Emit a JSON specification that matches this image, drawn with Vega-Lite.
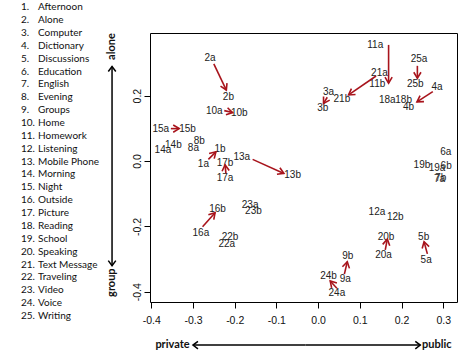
{
  "$schema": "https://vega.github.io/schema/vega-lite/v6.json",
  "width": 307,
  "height": 269,
  "autosize": {"type": "none"},
  "padding": {"left": 150, "top": 33, "right": 17, "bottom": 53},
  "background": "white",
  "config": {
    "view": {"stroke": "#000", "strokeWidth": 1},
    "axis": {"grid": false, "domain": false, "tickColor": "#000", "tickSize": 6, "labelFont": "Liberation Sans", "labelFontSize": 10.5, "labelColor": "#111"},
    "legend": {
      "symbolSize": 0, "symbolOpacity": 0, "symbolStrokeWidth": 0,
      "labelFont": "Lato", "labelFontSize": 10, "labelColor": "#111",
      "rowPadding": 2.86, "labelOffset": 0, "padding": 0, "labelLimit": 300
    }
  },
  "datasets": {
    "labels": [
      {"label": "1a", "x": -0.275, "y": -0.009}, {"label": "1b", "x": -0.235, "y": 0.036},
      {"label": "2a", "x": -0.259, "y": 0.314}, {"label": "2b", "x": -0.215, "y": 0.197},
      {"label": "3a", "x": 0.025, "y": 0.212}, {"label": "3b", "x": 0.011, "y": 0.161},
      {"label": "4a", "x": 0.285, "y": 0.225}, {"label": "4b", "x": 0.217, "y": 0.164},
      {"label": "5a", "x": 0.259, "y": -0.303}, {"label": "5b", "x": 0.253, "y": -0.233},
      {"label": "6a", "x": 0.306, "y": 0.027}, {"label": "6b", "x": 0.307, "y": -0.015},
      {"label": "7a", "x": 0.291, "y": -0.056}, {"label": "7b", "x": 0.294, "y": -0.052},
      {"label": "8a", "x": -0.299, "y": 0.039}, {"label": "8b", "x": -0.285, "y": 0.062},
      {"label": "9a", "x": 0.065, "y": -0.361}, {"label": "9b", "x": 0.071, "y": -0.291},
      {"label": "10a", "x": -0.249, "y": 0.154}, {"label": "10b", "x": -0.189, "y": 0.148},
      {"label": "11a", "x": 0.137, "y": 0.355}, {"label": "11b", "x": 0.142, "y": 0.235},
      {"label": "12a", "x": 0.141, "y": -0.155}, {"label": "12b", "x": 0.185, "y": -0.17},
      {"label": "13a", "x": -0.183, "y": 0.013}, {"label": "13b", "x": -0.061, "y": -0.043},
      {"label": "14a", "x": -0.372, "y": 0.034}, {"label": "14b", "x": -0.347, "y": 0.048},
      {"label": "15a", "x": -0.377, "y": 0.097}, {"label": "15b", "x": -0.313, "y": 0.097},
      {"label": "16a", "x": -0.281, "y": -0.219}, {"label": "16b", "x": -0.241, "y": -0.148},
      {"label": "17a", "x": -0.223, "y": -0.053}, {"label": "17b", "x": -0.223, "y": -0.005},
      {"label": "18a", "x": 0.166, "y": 0.187}, {"label": "18b", "x": 0.205, "y": 0.187},
      {"label": "19a", "x": 0.285, "y": -0.022}, {"label": "19b", "x": 0.249, "y": -0.012},
      {"label": "20a", "x": 0.157, "y": -0.287}, {"label": "20b", "x": 0.163, "y": -0.231},
      {"label": "21a", "x": 0.147, "y": 0.27}, {"label": "21b", "x": 0.057, "y": 0.189},
      {"label": "22a", "x": -0.219, "y": -0.254}, {"label": "22b", "x": -0.211, "y": -0.231},
      {"label": "23a", "x": -0.163, "y": -0.135}, {"label": "23b", "x": -0.155, "y": -0.152},
      {"label": "24a", "x": 0.045, "y": -0.405}, {"label": "24b", "x": 0.025, "y": -0.351},
      {"label": "25a", "x": 0.242, "y": 0.311}, {"label": "25b", "x": 0.233, "y": 0.235}
    ],
    "arrows": [
      {"id": 1, "x0": -0.263, "y0": 0.005, "x1": -0.245, "y1": 0.028},
      {"id": 2, "x0": -0.25, "y0": 0.297, "x1": -0.22, "y1": 0.217},
      {"id": 3, "x0": 0.022, "y0": 0.195, "x1": 0.013, "y1": 0.176},
      {"id": 4, "x0": 0.275, "y0": 0.212, "x1": 0.237, "y1": 0.181},
      {"id": 5, "x0": 0.262, "y0": -0.284, "x1": 0.254, "y1": -0.247},
      {"id": 9, "x0": 0.063, "y0": -0.346, "x1": 0.07, "y1": -0.308},
      {"id": 10, "x0": -0.225, "y0": 0.154, "x1": -0.205, "y1": 0.148},
      {"id": 11, "x0": 0.169, "y0": 0.355, "x1": 0.169, "y1": 0.238},
      {"id": 13, "x0": -0.157, "y0": 0.005, "x1": -0.082, "y1": -0.038},
      {"id": 15, "x0": -0.353, "y0": 0.099, "x1": -0.333, "y1": 0.099},
      {"id": 16, "x0": -0.277, "y0": -0.201, "x1": -0.247, "y1": -0.158},
      {"id": 17, "x0": -0.221, "y0": -0.038, "x1": -0.223, "y1": -0.012},
      {"id": 20, "x0": 0.161, "y0": -0.272, "x1": 0.166, "y1": -0.239},
      {"id": 21, "x0": 0.139, "y0": 0.26, "x1": 0.073, "y1": 0.202},
      {"id": 24, "x0": 0.045, "y0": -0.389, "x1": 0.029, "y1": -0.367},
      {"id": 25, "x0": 0.238, "y0": 0.291, "x1": 0.238, "y1": 0.253}
    ],
    "annot": [
      {"x0": -0.03, "y0": -0.563, "x1": -0.3, "y1": -0.563},
      {"x0": -0.03, "y0": -0.563, "x1": 0.245, "y1": -0.563},
      {"x0": -0.494, "y0": 0.0, "x1": -0.494, "y1": 0.289},
      {"x0": -0.494, "y0": 0.0, "x1": -0.494, "y1": -0.32}
    ],
    "words": [
      {"n": 1, "num": "1.", "name": "Afternoon"}, {"n": 2, "num": "2.", "name": "Alone"},
      {"n": 3, "num": "3.", "name": "Computer"}, {"n": 4, "num": "4.", "name": "Dictionary"},
      {"n": 5, "num": "5.", "name": "Discussions"}, {"n": 6, "num": "6.", "name": "Education"},
      {"n": 7, "num": "7.", "name": "English"}, {"n": 8, "num": "8.", "name": "Evening"},
      {"n": 9, "num": "9.", "name": "Groups"}, {"n": 10, "num": "10.", "name": "Home"},
      {"n": 11, "num": "11.", "name": "Homework"}, {"n": 12, "num": "12.", "name": "Listening"},
      {"n": 13, "num": "13.", "name": "Mobile Phone"}, {"n": 14, "num": "14.", "name": "Morning"},
      {"n": 15, "num": "15.", "name": "Night"}, {"n": 16, "num": "16.", "name": "Outside"},
      {"n": 17, "num": "17.", "name": "Picture"}, {"n": 18, "num": "18.", "name": "Reading"},
      {"n": 19, "num": "19.", "name": "School"}, {"n": 20, "num": "20.", "name": "Speaking"},
      {"n": 21, "num": "21.", "name": "Text Message"}, {"n": 22, "num": "22.", "name": "Traveling"},
      {"n": 23, "num": "23.", "name": "Video"}, {"n": 24, "num": "24.", "name": "Voice"},
      {"n": 25, "num": "25.", "name": "Writing"}
    ]
  },
  "layer": [
    {
      "data": {"name": "labels"},
      "mark": {"type": "text", "font": "Liberation Sans", "fontSize": 10, "color": "#222", "align": "center", "baseline": "middle"},
      "encoding": {
        "x": {"field": "x", "type": "quantitative", "title": null, "scale": {"domain": [-0.403, 0.333], "nice": false, "zero": false},
          "axis": {"title": null, "values": [-0.4, -0.3, -0.2, -0.1, 0, 0.1, 0.2, 0.3], "labelExpr": "replace(format(datum.value, '.1f'), '\u2212', '-')", "labelPadding": 7}},
        "y": {"field": "y", "type": "quantitative", "title": null, "scale": {"domain": [-0.4312, 0.3914], "nice": false, "zero": false},
          "axis": {"title": null, "values": [-0.4, -0.2, 0, 0.2], "labelExpr": "replace(format(datum.value, '.1f'), '\u2212', '-')",
            "labelAngle": -90, "labelAlign": "center", "labelBaseline": "bottom", "labelPadding": 2}},
        "text": {"field": "label"}
      }
    },
    {
      "data": {"name": "arrows"},
      "mark": {"type": "rule", "color": "#a8141c", "strokeWidth": 1.6},
      "encoding": {
        "x": {"field": "x0", "type": "quantitative", "title": null, "scale": {"domain": [-0.403, 0.333], "nice": false, "zero": false}},
        "y": {"field": "y0", "type": "quantitative", "title": null, "scale": {"domain": [-0.4312, 0.3914], "nice": false, "zero": false}},
        "x2": {"field": "x1"},
        "y2": {"field": "y1"}
      }
    },
    {
      "data": {"name": "arrows"},
      "transform": [{"calculate": "atan2(-(datum.y1 - datum.y0) * 327, (datum.x1 - datum.x0) * 417) * 180 / PI", "as": "angle"}],
      "mark": {"type": "point", "shape": "M-1,-0.6L0,0L-1,0.6", "filled": false, "color": "#a8141c", "strokeWidth": 1.6, "opacity": 1, "size": 144, "strokeJoin": "miter"},
      "encoding": {
        "x": {"field": "x1", "type": "quantitative", "title": null, "scale": {"domain": [-0.403, 0.333], "nice": false, "zero": false}},
        "y": {"field": "y1", "type": "quantitative", "title": null, "scale": {"domain": [-0.4312, 0.3914], "nice": false, "zero": false}},
        "angle": {"field": "angle", "type": "quantitative", "scale": null}
      }
    },
    {
      "data": {"name": "annot"},
      "mark": {"type": "rule", "color": "#000", "strokeWidth": 1.5},
      "encoding": {
        "x": {"field": "x0", "type": "quantitative", "title": null, "scale": {"domain": [-0.403, 0.333], "nice": false, "zero": false}},
        "y": {"field": "y0", "type": "quantitative", "title": null, "scale": {"domain": [-0.4312, 0.3914], "nice": false, "zero": false}},
        "x2": {"field": "x1"},
        "y2": {"field": "y1"}
      }
    },
    {
      "data": {"name": "annot"},
      "transform": [{"calculate": "atan2(-(datum.y1 - datum.y0) * 327, (datum.x1 - datum.x0) * 417) * 180 / PI", "as": "angle"}],
      "mark": {"type": "point", "shape": "M-1,-0.75L0,0L-1,0.75", "filled": false, "color": "#000", "strokeWidth": 1.5, "opacity": 1, "size": 100, "strokeJoin": "miter"},
      "encoding": {
        "x": {"field": "x1", "type": "quantitative", "title": null, "scale": {"domain": [-0.403, 0.333], "nice": false, "zero": false}},
        "y": {"field": "y1", "type": "quantitative", "title": null, "scale": {"domain": [-0.4312, 0.3914], "nice": false, "zero": false}},
        "angle": {"field": "angle", "type": "quantitative", "scale": null}
      }
    },
    {
      "data": {"values": [{"t": "private", "x": -0.308, "y": -0.563}]},
      "mark": {"type": "text", "font": "Lato", "fontWeight": "bold", "fontSize": 11, "color": "#111", "align": "right", "baseline": "middle"},
      "encoding": {
        "x": {"field": "x", "type": "quantitative", "title": null, "scale": {"domain": [-0.403, 0.333], "nice": false, "zero": false}},
        "y": {"field": "y", "type": "quantitative", "title": null, "scale": {"domain": [-0.4312, 0.3914], "nice": false, "zero": false}},
        "text": {"field": "t"}
      }
    },
    {
      "data": {"values": [{"t": "public", "x": 0.249, "y": -0.563}]},
      "mark": {"type": "text", "font": "Lato", "fontWeight": "bold", "fontSize": 11, "color": "#111", "align": "left", "baseline": "middle"},
      "encoding": {
        "x": {"field": "x", "type": "quantitative", "title": null, "scale": {"domain": [-0.403, 0.333], "nice": false, "zero": false}},
        "y": {"field": "y", "type": "quantitative", "title": null, "scale": {"domain": [-0.4312, 0.3914], "nice": false, "zero": false}},
        "text": {"field": "t"}
      }
    },
    {
      "data": {"values": [{"t": "alone", "x": -0.494, "y": 0.35}, {"t": "group", "x": -0.494, "y": -0.372}]},
      "mark": {"type": "text", "font": "Lato", "fontWeight": "bold", "fontSize": 11, "color": "#111", "align": "center", "baseline": "middle", "angle": -90},
      "encoding": {
        "x": {"field": "x", "type": "quantitative", "title": null, "scale": {"domain": [-0.403, 0.333], "nice": false, "zero": false}},
        "y": {"field": "y", "type": "quantitative", "title": null, "scale": {"domain": [-0.4312, 0.3914], "nice": false, "zero": false}},
        "text": {"field": "t"}
      }
    },
    {
      "data": {"name": "words"},
      "mark": {"type": "point", "opacity": 0, "size": 0},
      "encoding": {
        "shape": {"field": "num", "type": "nominal", "sort": {"field": "n", "op": "min"},
          "legend": {"orient": "none", "legendX": -139, "legendY": -30.7, "title": null, "direction": "vertical", "columns": 1}},
        "color": {"field": "name", "type": "nominal", "sort": {"field": "n", "op": "min"}, "scale": {"range": ["#000"]},
          "legend": {"orient": "none", "legendX": -122, "legendY": -30.7, "title": null, "direction": "vertical", "columns": 1}}
      }
    }
  ]
}
